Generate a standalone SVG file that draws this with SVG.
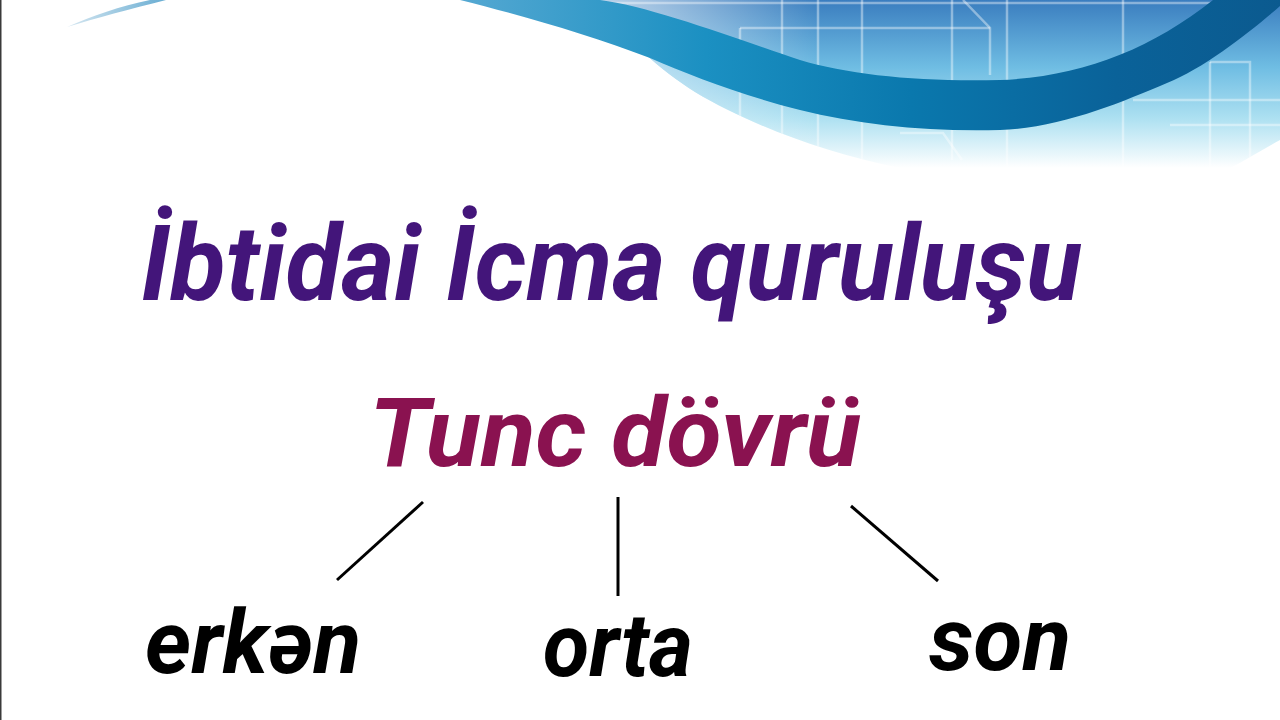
<svg xmlns="http://www.w3.org/2000/svg" width="1280" height="720" viewBox="0 0 1280 720">
  <defs>
    <style>
      .t { font-family: Roboto, "Liberation Sans", sans-serif; font-weight: 700; font-style: italic; }
      .title { font-size: 105px; fill: #43157a; }
      .root { font-size: 96px; fill: #8a1250; }
      .leaf { font-size: 88px; fill: #000000; }
      .conn { stroke: #000000; stroke-width: 3; stroke-linecap: butt; fill: none; }
      .circ { stroke: #ffffff; stroke-opacity: 0.4; stroke-width: 2.5; fill: none; }
    </style>
    <linearGradient id="bgV" x1="0" y1="0" x2="0" y2="1" gradientUnits="objectBoundingBox">
      <stop offset="0" stop-color="#3a7dbf"/>
      <stop offset="0.4" stop-color="#6fbde3"/>
      <stop offset="0.7" stop-color="#ace0f1"/>
      <stop offset="1" stop-color="#ffffff"/>
    </linearGradient>
    <linearGradient id="bgH" x1="590" y1="0" x2="820" y2="0" gradientUnits="userSpaceOnUse">
      <stop offset="0" stop-color="#ffffff" stop-opacity="0.7"/>
      <stop offset="1" stop-color="#ffffff" stop-opacity="0"/>
    </linearGradient>
    <linearGradient id="band" x1="460" y1="0" x2="1280" y2="0" gradientUnits="userSpaceOnUse">
      <stop offset="0" stop-color="#55a8d2"/>
      <stop offset="0.3" stop-color="#1b90c2"/>
      <stop offset="0.55" stop-color="#0a78ad"/>
      <stop offset="0.8" stop-color="#0a6299"/>
      <stop offset="1" stop-color="#0b5a8f"/>
    </linearGradient>
    <linearGradient id="sw" x1="67" y1="0" x2="165" y2="0" gradientUnits="userSpaceOnUse">
      <stop offset="0" stop-color="#d6e7f1"/>
      <stop offset="1" stop-color="#6aaed3"/>
    </linearGradient>
    <clipPath id="bgClip">
      <path d="M590,0 L1280,0 L1280,140 C1262,150 1246,160 1230,168 L900,168 C820,152 745,122 695,92 C660,70 628,40 590,0 Z"/>
    </clipPath>
  </defs>

  <rect x="0" y="0" width="1280" height="720" fill="#ffffff"/>

  <g id="header-decoration">
    <path d="M590,0 L1280,0 L1280,140 C1262,150 1246,160 1230,168 L900,168 C820,152 745,122 695,92 C660,70 628,40 590,0 Z" fill="url(#bgV)"/>
    <path d="M590,0 L1280,0 L1280,140 C1262,150 1246,160 1230,168 L900,168 C820,152 745,122 695,92 C660,70 628,40 590,0 Z" fill="url(#bgH)"/>
    <g clip-path="url(#bgClip)" class="circ">
      <path d="M600,3 H1230"/>
      <path d="M740,28 H990"/>
      <path d="M740,28 V168"/>
      <path d="M782,0 V168"/>
      <path d="M818,0 V168"/>
      <path d="M862,0 V168"/>
      <path d="M952,0 V160"/>
      <path d="M963,0 L990,28 V75"/>
      <path d="M900,133 H943 L962,160"/>
      <path d="M1007,0 V168"/>
      <path d="M1123,0 V168"/>
      <path d="M1210,62 H1250 V168"/>
      <path d="M1210,62 V168"/>
      <path d="M1133,100 H1280"/>
      <path d="M1170,125 H1280"/>
    </g>
    <path d="M460,0 L600,0 C650,6 740,40 800,60 C850,75 920,82 1000,80 C1080,77 1150,50 1213,0 L1280,0 L1280,6 C1255,28 1205,68 1167,83 C1120,103 1060,128 1000,130 C930,132 860,125 800,110 C740,95 690,75 650,58 C590,35 520,15 460,0 Z" fill="url(#band)"/>
    <path d="M67,27 C92,16 120,6 150,0 L166,0 C130,9 96,18 67,27 Z" fill="url(#sw)"/>
  </g>

  <line x1="0.75" y1="0" x2="0.75" y2="720" stroke="#3a3a3a" stroke-width="1.5"/>

  <g id="title">
    <text class="t title" x="141" y="300" textLength="941" lengthAdjust="spacingAndGlyphs">İbtidai İcma quruluşu</text>
  </g>

  <g id="node-tunc-dovru">
    <text class="t root" x="369" y="466" textLength="492" lengthAdjust="spacingAndGlyphs">Tunc dövrü</text>
  </g>

  <g id="connectors">
    <line class="conn" x1="423" y1="502" x2="337" y2="580"/>
    <line class="conn" x1="618" y1="497" x2="618" y2="596"/>
    <line class="conn" x1="851" y1="506" x2="938" y2="581"/>
  </g>

  <g id="node-erken">
    <text class="t leaf" x="145" y="673" textLength="216" lengthAdjust="spacingAndGlyphs">erkən</text>
  </g>
  <g id="node-orta">
    <text class="t leaf" x="543" y="676" textLength="150" lengthAdjust="spacingAndGlyphs">orta</text>
  </g>
  <g id="node-son">
    <text class="t leaf" x="929" y="670" textLength="142" lengthAdjust="spacingAndGlyphs">son</text>
  </g>
</svg>
